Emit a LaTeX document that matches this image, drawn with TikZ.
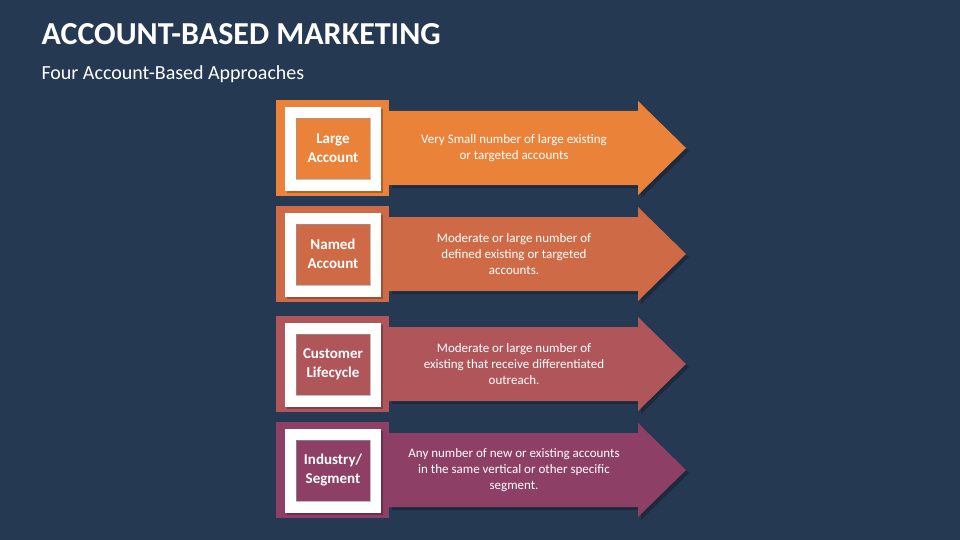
\documentclass[tikz,border=0pt]{standalone}
\usepackage{fontspec}
\setmainfont{Carlito}
\begin{document}
\begin{tikzpicture}[x=1pt,y=-1pt,
  txt/.style={text=white,align=center,font=\fontsize{13}{16}\selectfont},
  lab/.style={text=white,align=center,font=\bfseries\fontsize{15}{19}\selectfont}]
\definecolor{bg}{HTML}{253A52}
\definecolor{c1}{HTML}{EA823A}
\definecolor{c2}{HTML}{CF6A47}
\definecolor{c3}{HTML}{B0555A}
\definecolor{c4}{HTML}{8E3F66}
\fill[bg] (0,0) rectangle (960,540);
\useasboundingbox (0,0) rectangle (960,540);
\node[anchor=west,text=white,font=\bfseries\fontsize{32}{36}\selectfont] (title) at (38,34) {ACCOUNT-BASED MARKETING};
\node[anchor=west,text=white,font=\fontsize{20}{24}\selectfont] (sub) at (38,74) {Four Account-Based Approaches};
\foreach \c/\col/\a/\b [count=\i] in {
 148/c1/{Large\\Account}/{Very Small number of large existing\\or targeted accounts},
 254/c2/{Named\\Account}/{Moderate or large number of\\defined existing or targeted\\accounts.},
 364/c3/{Customer\\Lifecycle}/{Moderate or large number of\\existing that receive differentiated\\outreach.},
 470/c4/{Industry/\\Segment}/{Any number of new or existing accounts\\in the same vertical or other specific\\segment.}}{
  \fill[black,opacity=0.25] (392,\c-34) -- (641,\c-34) -- (641,\c-44) -- (689,\c+3) -- (641,\c+50) -- (641,\c+40) -- (392,\c+40) -- cycle;
  \fill[\col] (389,\c-37) -- (638,\c-37) -- (638,\c-47) -- (686,\c) -- (638,\c+47) -- (638,\c+37) -- (389,\c+37) -- cycle;
  \fill[\col] (276,\c-48) rectangle (389,\c+48);
  \fill[black,opacity=0.25] (287,\c-39) rectangle (383,\c+45);
  \fill[white] (285,\c-41) rectangle (381,\c+43);
  \fill[\col] (296,\c-30) rectangle (370,\c+31);
  \draw[black!40,opacity=0.6] (296,\c-30) rectangle (370,\c+31);
  \node[lab] (l\i) at (333,\c) {\a};
  \node[txt] (t\i) at (514,\c) {\b};
}
\end{tikzpicture}
\end{document}
